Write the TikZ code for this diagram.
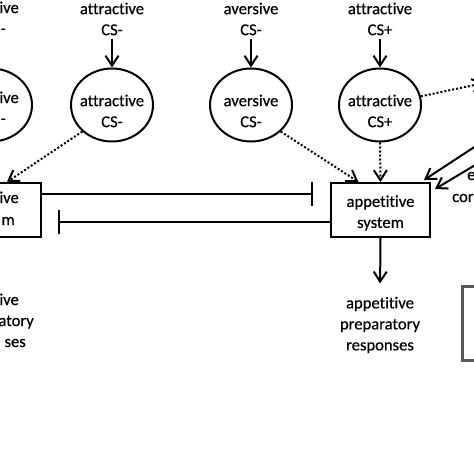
\documentclass[tikz,border=0pt]{standalone}
\usepackage{fontspec}
\setmainfont{Carlito}[Ligatures=NoCommon, FakeBold=0.5]
\usetikzlibrary{calc,shapes,arrows.meta}

\begin{document}
\begin{tikzpicture}[x=1pt,y=-1pt,
        every node/.style={font=\fontsize{16.6}{21}\selectfont, align=center},
        stim/.style={draw, line width=2pt, ellipse, minimum width=82pt, minimum height=73pt, inner sep=0pt},
        sysbox/.style={draw, line width=2pt, minimum width=99pt, minimum height=54pt, inner sep=0pt},
        solidarr/.style={line width=2pt, -{Straight Barb[length=10pt,width=13pt]}},
        dotarr/.style={line width=2pt, dash pattern=on 2pt off 2pt, -{Straight Barb[length=10pt,width=13pt]}},
        inhib/.style={line width=2pt, -{Bar[width=24pt]}},
        frag/.style={anchor=base east, inner sep=0pt},
        fragw/.style={anchor=base west, inner sep=0pt}]
        \useasboundingbox (0,0) rectangle (474,474);
        \fill[white] (0,0) rectangle (474,474);

        \foreach \col/\nm/\val/\cs in {112/ellA/attractive/CS-, 251/ellV/aversive/CS-, 380/ellP/attractive/CS+}
        {
        \node (top\nm) at (\col,19) {\val\\\cs};
        \node[stim] (\nm) at (\col,105) {};
        \node (\nm txt) at (\col,111) {\val\\\cs};
        \draw[solidarr] (top\nm) -- (\nm);
        }

        \node[stim] (ellL) at (-9,105) {};
        \node[frag] (topLa) at (19,13) {ive};
        \node[frag] (topLb) at (6,34) {-};
        \node[frag] (ellLa) at (19,103) {ive};
        \node[frag] (ellLb) at (6,124) {-};

        \node[sysbox] (avsys) at (-9,210) {};
        \node[frag] (avsysA) at (19,203) {ive};
        \node[frag] (avsysB) at (15,225) {m};
        \node[sysbox] (appsys) at (380.5,210) {};
        \node (appsystxt) at (380.5,213) {appetitive\\system};

        \coordinate (barA) at (313,194);
        \coordinate (barB) at (58,222);
        \draw[inhib] ([yshift=16pt]avsys.east) -- (barA);
        \draw[inhib] ([yshift=-12pt]appsys.west) -- (barB);

        \draw[dotarr] (ellA.south west) -- ([xshift=16pt]avsys.north);
        \draw[dotarr] (ellV.south east) -- ([xshift=-22pt]appsys.north);
        \draw[dotarr] (ellP.south) -- (appsys.north);
        \coordinate (offR) at (484,83);
        \draw[dotarr] (ellP.12) -- (offR);

        \coordinate (inA) at (482,142);
        \coordinate (inB) at (482,161);
        \draw[solidarr] (inA) -- ([xshift=-7pt,yshift=2pt]appsys.north east);
        \draw[solidarr] (inB) -- ([xshift=4pt,yshift=-7pt]appsys.north east);
        \node[fragw] (extA) at (467,180) {e};
        \node[fragw] (extB) at (452,202) {cor};

        \node (appresp) at (380,325) {appetitive\\preparatory\\responses};
        \draw[solidarr, shorten >=10pt] (appsys.south) -- (appresp.north);
        \node[frag] (avrespA) at (19,305) {ive};
        \node[frag] (avrespB) at (34,326) {atory};
        \node[frag] (avrespC) at (26,347) {ses};

        \node[draw=black!65, line width=3pt, minimum width=110pt, minimum height=74pt, inner sep=0pt] (rbox) at (517,323) {};
    \end{tikzpicture}
\end{document}
